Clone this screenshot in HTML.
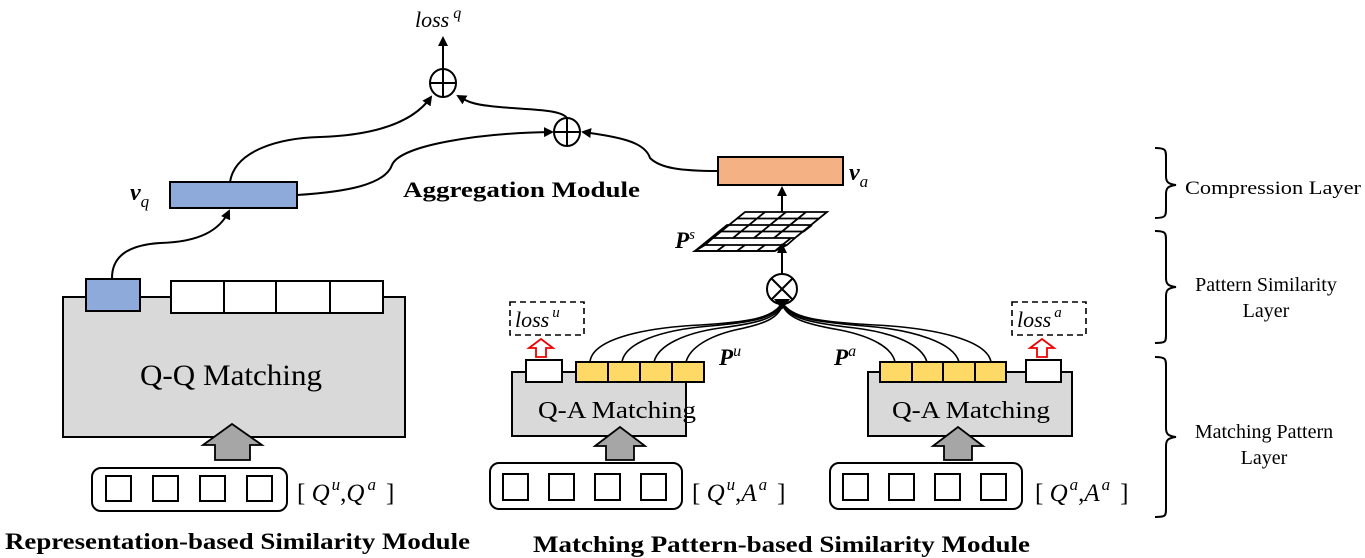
<!DOCTYPE html>
<html><head><meta charset="utf-8"><style>
html,body{margin:0;padding:0;background:#fff;}
svg{display:block;}
text{font-family:"Liberation Serif",serif;}
</style></head><body>
<svg width="1365" height="558" viewBox="0 0 1365 558" xmlns="http://www.w3.org/2000/svg">
<defs>
<marker id="ar" markerWidth="10" markerHeight="10" refX="8" refY="5" orient="auto" markerUnits="userSpaceOnUse">
<path d="M0,0 L10,5 L0,10 z" fill="#000"/></marker>
</defs>
<g stroke="#000" stroke-width="2" fill="none">
<line x1="443" y1="70" x2="443" y2="38" marker-end="url(#ar)"/>
<ellipse cx="443" cy="83" rx="13" ry="14" fill="#fff"/>
<line x1="430" y1="83" x2="456" y2="83"/><line x1="443" y1="69" x2="443" y2="97"/>
<ellipse cx="567" cy="132" rx="13" ry="14" fill="#fff"/>
<line x1="554" y1="132" x2="580" y2="132"/><line x1="567" y1="118" x2="567" y2="146"/>
<path d="M230,182 C235,150 280,138 320,137 C380,135 415,120 431,97" marker-end="url(#ar)"/>
<path d="M297,195 C345,192 385,185 392,165 C400,145 480,133 552,132" marker-end="url(#ar)"/>
<path d="M718,171 C680,171 660,168 650,158 C645,142 620,137 583,132" marker-end="url(#ar)"/>
<path d="M567,118 C560,108 520,110 490,106 C470,104 465,100 458,96" marker-end="url(#ar)"/>
<path d="M112,278 C112,255 130,245 160,243 C200,242 220,230 229,211" marker-end="url(#ar)"/>
<rect x="170" y="182" width="127" height="26" fill="#8eaadb"/>
<rect x="718" y="157" width="125" height="28" fill="#f4b183"/>
<line x1="782" y1="212" x2="782" y2="188" marker-end="url(#ar)"/>
<g stroke-width="1.8">
<path d="M727,225 L807,225 L775,251 L695,251 z" fill="#fff"/>
<path d="M745,212 L827,212 L795,238 L713,238 z" fill="#fff"/>
<path d="M765,212 L733,238 M786,212 L754,238 M806,212 L774,238 M737,218.5 L819,218.5 M729,225 L811,225 M721,231.5 L803,231.5"/>
<path d="M713,238 L705,245 L787,245 L795,238 M705,245 L695,251 L775,251 L787,245 M725,245 L717,251 M745,245 L737,251 M765,245 L757,251 M812,225 L803,232"/>
</g>
<line x1="782" y1="274" x2="782" y2="245" marker-end="url(#ar)"/>
<circle cx="782" cy="289" r="15" fill="#fff"/>
<line x1="771" y1="278" x2="793" y2="300"/><line x1="793" y1="278" x2="771" y2="300"/>
<g stroke-width="1.6">
<path d="M590,362 C592,340 640,328 700,325 C750,322 770,318 780,306"/>
<path d="M622,362 C625,343 660,330 710,326 C755,322 772,318 781,306"/>
<path d="M654,362 C658,345 685,333 720,328 C760,323 775,318 782,306"/>
<path d="M686,362 C690,347 710,336 735,330 C765,324 778,318 782,306"/>
<path d="M895,362 C892,347 870,336 840,330 C805,324 788,318 783,306"/>
<path d="M927,362 C922,345 895,333 855,328 C810,323 790,318 783,306"/>
<path d="M959,362 C954,343 915,330 865,326 C815,322 792,318 784,306"/>
<path d="M991,362 C987,340 935,328 875,325 C820,322 795,318 785,306"/>
</g>
<path d="M776,300 L782,308 L788,300 z" fill="#000"/>
<rect x="63" y="297" width="342" height="140" fill="#d9d9d9"/>
<rect x="86" y="279" width="54" height="32" fill="#8eaadb"/>
<rect x="171" y="281" width="212" height="32" fill="#fff"/>
<line x1="224" y1="281" x2="224" y2="313"/><line x1="276" y1="281" x2="276" y2="313"/><line x1="330" y1="281" x2="330" y2="313"/>
<path d="M215,460 L250,460 L250,445 L262,445 L232,424 L203,445 L215,445 z" fill="#a6a6a6" stroke-width="1.8"/>
<rect x="92" y="468" width="195" height="43" rx="9"/>
<rect x="106" y="476" width="25" height="25"/><rect x="153" y="476" width="25" height="25"/><rect x="200" y="476" width="25" height="25"/><rect x="247" y="476" width="25" height="25"/>
<rect x="512" y="372" width="174" height="64" fill="#d9d9d9"/>
<rect x="526" y="360" width="36" height="22" fill="#fff"/>
<rect x="576" y="362" width="128" height="20" fill="#ffd966"/>
<line x1="608" y1="362" x2="608" y2="382"/><line x1="640" y1="362" x2="640" y2="382"/><line x1="672" y1="362" x2="672" y2="382"/>
<path d="M606,460 L634,460 L634,446 L645,446 L620,427 L595,446 L606,446 z" fill="#a6a6a6" stroke-width="1.8"/>
<rect x="490" y="463" width="192" height="46" rx="9"/>
<rect x="503" y="474" width="25" height="26"/><rect x="549" y="474" width="25" height="26"/><rect x="595" y="474" width="25" height="26"/><rect x="641" y="474" width="25" height="26"/>
<rect x="868" y="372" width="204" height="64" fill="#d9d9d9"/>
<rect x="880" y="362" width="126" height="20" fill="#ffd966"/>
<line x1="912" y1="362" x2="912" y2="382"/><line x1="943" y1="362" x2="943" y2="382"/><line x1="975" y1="362" x2="975" y2="382"/>
<rect x="1026" y="360" width="35" height="22" fill="#fff"/>
<path d="M944,460 L972,460 L972,446 L983,446 L958,427 L933,446 L944,446 z" fill="#a6a6a6" stroke-width="1.8"/>
<rect x="830" y="463" width="192" height="46" rx="9"/>
<rect x="843" y="474" width="25" height="26"/><rect x="889" y="474" width="25" height="26"/><rect x="935" y="474" width="25" height="26"/><rect x="981" y="474" width="25" height="26"/>
<rect x="510" y="302" width="74" height="33" stroke-dasharray="6,4" stroke-width="1.6"/>
<rect x="1012" y="302" width="74" height="33" stroke-dasharray="6,4" stroke-width="1.6"/>
<path d="M536,357 L546,357 L546,348 L553,348 L541,339 L529,348 L536,348 z" stroke="#e00" stroke-width="1.8" fill="#fff"/>
<path d="M1037,357 L1047,357 L1047,348 L1054,348 L1042,339 L1030,348 L1037,348 z" stroke="#e00" stroke-width="1.8" fill="#fff"/>
<path d="M1155,148 C1166,148 1166,150 1166,158 L1166,176 C1166,182 1168,184 1176,185 C1168,186 1166,188 1166,194 L1166,208 C1166,216 1166,218 1155,218"/>
<path d="M1155,231 C1166,231 1166,233 1166,241 L1166,278 C1166,284 1168,286 1176,287 C1168,288 1166,290 1166,296 L1166,334 C1166,342 1166,343 1155,343"/>
<path d="M1155,357 C1166,357 1166,359 1166,367 L1166,428 C1166,434 1168,436 1176,437 C1168,438 1166,440 1166,446 L1166,508 C1166,516 1166,517 1155,517"/>
</g>
<g fill="#000">
<text x="415" y="27" font-size="22" font-style="italic">loss<tspan dx="4" dy="-9" font-size="16">q</tspan></text>
<text x="130" y="200" font-size="24" font-style="italic" font-weight="bold">v<tspan dy="7" font-size="17" font-weight="normal">q</tspan></text>
<text x="849" y="180" font-size="24" font-style="italic" font-weight="bold">v<tspan dy="7" font-size="17" font-weight="normal">a</tspan></text>
<text x="403" y="197" font-size="22" font-weight="bold" textLength="237" lengthAdjust="spacingAndGlyphs">Aggregation Module</text>
<text x="675" y="248" font-size="23" font-style="italic" font-weight="bold">P<tspan dy="-9" font-size="15" font-weight="normal">s</tspan></text>
<text x="719" y="365" font-size="23" font-style="italic" font-weight="bold">P<tspan dy="-9" font-size="16" font-weight="normal">u</tspan></text>
<text x="834" y="365" font-size="23" font-style="italic" font-weight="bold">P<tspan dy="-9" font-size="16" font-weight="normal">a</tspan></text>
<text x="140" y="385" font-size="30" textLength="182" lengthAdjust="spacingAndGlyphs">Q-Q Matching</text>
<text x="538" y="418" font-size="24" textLength="158" lengthAdjust="spacingAndGlyphs">Q-A Matching</text>
<text x="892" y="418" font-size="24" textLength="158" lengthAdjust="spacingAndGlyphs">Q-A Matching</text>
<text x="515" y="327" font-size="22" font-style="italic">loss<tspan dx="3" dy="-10" font-size="15">u</tspan></text>
<text x="1017" y="327" font-size="22" font-style="italic">loss<tspan dx="3" dy="-10" font-size="15">a</tspan></text>
<text x="297" y="501" font-size="25">[ <tspan font-style="italic">Q</tspan><tspan dx="2" dy="-11" font-size="17" font-style="italic">u</tspan><tspan dy="11">,</tspan><tspan font-style="italic">Q</tspan><tspan dx="3" dy="-11" font-size="17" font-style="italic">a</tspan><tspan dx="10" dy="11">]</tspan></text>
<text x="692" y="501" font-size="25">[ <tspan font-style="italic">Q</tspan><tspan dx="2" dy="-11" font-size="17" font-style="italic">u</tspan><tspan dy="11">,</tspan><tspan font-style="italic">A</tspan><tspan dx="2" dy="-11" font-size="17" font-style="italic">a</tspan><tspan dx="10" dy="11">]</tspan></text>
<text x="1035" y="501" font-size="25">[ <tspan font-style="italic">Q</tspan><tspan dx="2" dy="-11" font-size="17" font-style="italic">a</tspan><tspan dy="11">,</tspan><tspan font-style="italic">A</tspan><tspan dx="2" dy="-11" font-size="17" font-style="italic">a</tspan><tspan dx="10" dy="11">]</tspan></text>
<text x="5" y="549" font-size="23" font-weight="bold" textLength="465" lengthAdjust="spacingAndGlyphs">Representation-based Similarity  Module</text>
<text x="533" y="552" font-size="23" font-weight="bold" textLength="497" lengthAdjust="spacingAndGlyphs">Matching Pattern-based Similarity  Module</text>
<text x="1185" y="194" font-size="19" textLength="176" lengthAdjust="spacingAndGlyphs">Compression Layer</text>
<text x="1266" y="291" font-size="20" text-anchor="middle">Pattern Similarity</text>
<text x="1266" y="317" font-size="20" text-anchor="middle">Layer</text>
<text x="1264" y="438" font-size="20" text-anchor="middle">Matching Pattern</text>
<text x="1264" y="464" font-size="20" text-anchor="middle">Layer</text>
</g>
</svg>
</body></html>
